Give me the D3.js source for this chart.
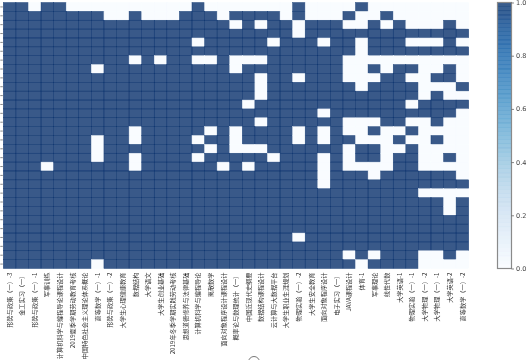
<!DOCTYPE html>
<html>
<head>
<meta charset="utf-8">
<script src="https://cdn.jsdelivr.net/npm/d3@7"></script>
<style>
  html, body { margin: 0; padding: 0; background: #fff; overflow: hidden; }
  svg { display: block; filter: blur(0.35px); }
  .x-axis text { font-family: "Noto Sans CJK SC", sans-serif; font-size: 6.2px; fill: #333; }
  .bar-axis text { font-family: "DejaVu Sans", sans-serif; font-size: 6.5px; fill: #444; }
</style>
</head>
<body>
<div id="chart"></div>
<script>
const courses = [
  '形势与政策（一）-3', '金工实习（一）', '形势与政策（一）-1', '军事训练', '计算机科学与编程导论课程设计',
  '2019夏季学期劳动教育考核', '中国特色社会主义理论体系概论', '高等数学（一）-1', '形势与政策（一）-2',
  '大学生心理健康教育', '数据结构', '大学语文', '大学生创业基础', '2019年冬季学期实践劳动考核',
  '思想道德修养与法律基础', '计算机科学与编程导论', '离散数学', '面向对象程序设计课程设计',
  '概率论与数理统计（一）', '中国近现代史纲要', '数据结构课程设计', '云计算与大数据平台',
  '大学生职业生涯规划', '物理实验（一）-2', '大学生安全教育', '面向对象程序设计', '电子实习（一）',
  'JAVA课程设计', '体育-1', '军事理论', '线性代数', '大学英语-1', '物理实验（一）-1',
  '大学物理（一）-2', '大学物理（一）-1', '大学英语-2', '高等数学（一）-2'
];

// one string per student row, 1 = course taken, 0 = not
const takenRows = [
  '1101100000 0000010000 0001000010 0000000',
  '1111111100 1000111011 1101000100 1000000',
  '1111111111 1111111101 0110111001 0100010',
  '1111111111 1111111111 1110111111 1111111',
  '1111111111 1111101111 1011101101 1100010',
  '1111111111 1111111111 1111111101 1111111',
  '1111111111 0101100100 0111111000 0000000',
  '1111111011 1111111101 1111111001 0110010',
  '1111111111 1111111111 0110111000 1100110',
  '1111111111 1111111111 0111111101 1110001',
  '1111111111 1111111111 0111111111 1110100',
  '1111111111 1111111110 1111111111 1101111',
  '1111111111 1111111111 1111101111 1111110',
  '1111111111 1111111111 0111111000 1100100',
  '1111111111 0111110101 1110101001 0010000',
  '1111111011 0111101101 1110101100 0100100',
  '1111111011 1111110100 0111111011 0010000',
  '1111111011 0111101111 1011101011 0110010',
  '1110111111 0111111010 1111101000 0110000',
  '1111111111 1111111111 1111101110 1111110',
  '1111111111 1111111111 1111101111 1111111',
  '1111111111 1111111111 1111111111 1110000',
  '1111111111 1111111111 1111111111 1111101',
  '1111111111 1111111111 1111111111 1111101',
  '1111111111 1111111111 1111111111 1111111',
  '1111111111 1111111111 1111111111 1111111',
  '1111111111 1111111111 1110111111 1111111',
  '1111111111 1111111111 1111111111 1111111',
  '1111111111 1111111111 1111111010 1110010',
  '1111111011 1111111111 1111111101 1110000'
];

const barTicks = [0, 0.2, 0.4, 0.6, 0.8, 1];
const cellAlpha = 0.8;

const width = 527, height = 360;
const plot = { left: 3.3, right: 468.7, top: 2.5, bottom: 268.5 };
const bar = { left: 497.5, right: 511.5 };

const rowIds = d3.range(takenRows.length);
const cells = takenRows.flatMap((row, r) =>
  Array.from(row.replace(/ /g, '')).map((v, c) => ({ r, c, value: +v })));

const x = d3.scaleBand().domain(courses).range([plot.left, plot.right]);
const y = d3.scaleBand().domain(rowIds).range([plot.top, plot.bottom]);
const colour = d3.scaleSequential(d3.interpolateBlues).domain([0, 1]);

const svg = d3.select('#chart').append('svg')
  .attr('width', width)
  .attr('height', height);

svg.append('g').selectAll('rect')
  .data(cells)
  .join('rect')
  .attr('x', d => x(courses[d.c]))
  .attr('y', d => y(d.r))
  .attr('width', x.bandwidth())
  .attr('height', y.bandwidth())
  .attr('fill', d => colour(d.value))
  .attr('fill-opacity', cellAlpha)
  .attr('stroke', d => colour(d.value))
  .attr('stroke-opacity', cellAlpha)
  .attr('stroke-width', 0.5);

// x labels read bottom to top, hanging just under the plot
const xAxis = svg.append('g')
  .attr('class', 'x-axis')
  .attr('transform', `translate(0,${plot.bottom})`)
  .call(d3.axisBottom(x).tickSize(0));
xAxis.select('.domain').remove();
xAxis.selectAll('text')
  .attr('transform', 'translate(0,4) rotate(-90)')
  .attr('text-anchor', 'end')
  .attr('x', 0)
  .attr('y', 0)
  .attr('dy', '0.35em');

// the row labels fall outside the picture, only their ticks show
const yAxis = svg.append('g')
  .attr('transform', `translate(${plot.left - 0.5},0)`)
  .call(d3.axisLeft(y).tickSize(2.5).tickFormat(''));
yAxis.select('.domain').remove();
yAxis.selectAll('line').attr('stroke', '#555').attr('stroke-width', 0.7);

// colour bar
const barY = d3.scaleLinear().domain([0, 1]).range([plot.bottom, plot.top]);
const barSteps = d3.range(0, 1, 1 / 64);

svg.append('g').selectAll('rect')
  .data(barSteps)
  .join('rect')
  .attr('x', bar.left)
  .attr('width', bar.right - bar.left)
  .attr('y', d => barY(d + 1 / 64))
  .attr('height', d => barY(d) - barY(d + 1 / 64))
  .attr('fill', d => colour(d))
  .attr('fill-opacity', cellAlpha)
  .attr('stroke', d => colour(d))
  .attr('stroke-opacity', cellAlpha)
  .attr('stroke-width', 0.4);

svg.append('rect')
  .attr('x', bar.left)
  .attr('y', plot.top)
  .attr('width', bar.right - bar.left)
  .attr('height', plot.bottom - plot.top)
  .attr('fill', 'none')
  .attr('stroke', '#8a8a8a')
  .attr('stroke-width', 1.2);

const barAxis = svg.append('g')
  .attr('class', 'bar-axis')
  .attr('transform', `translate(${bar.right},0)`)
  .call(d3.axisRight(barY).tickValues(barTicks).tickFormat(d3.format('.1f')).tickSize(2.5).tickPadding(2));
barAxis.select('.domain').remove();
barAxis.selectAll('line').attr('stroke', '#555').attr('stroke-width', 0.7);

// partial ring cut off by the bottom edge of the picture
svg.append('circle')
  .attr('cx', 254)
  .attr('cy', 362)
  .attr('r', 5.5)
  .attr('fill', 'none')
  .attr('stroke', '#777')
  .attr('stroke-width', 1);
</script>
</body>
</html>
